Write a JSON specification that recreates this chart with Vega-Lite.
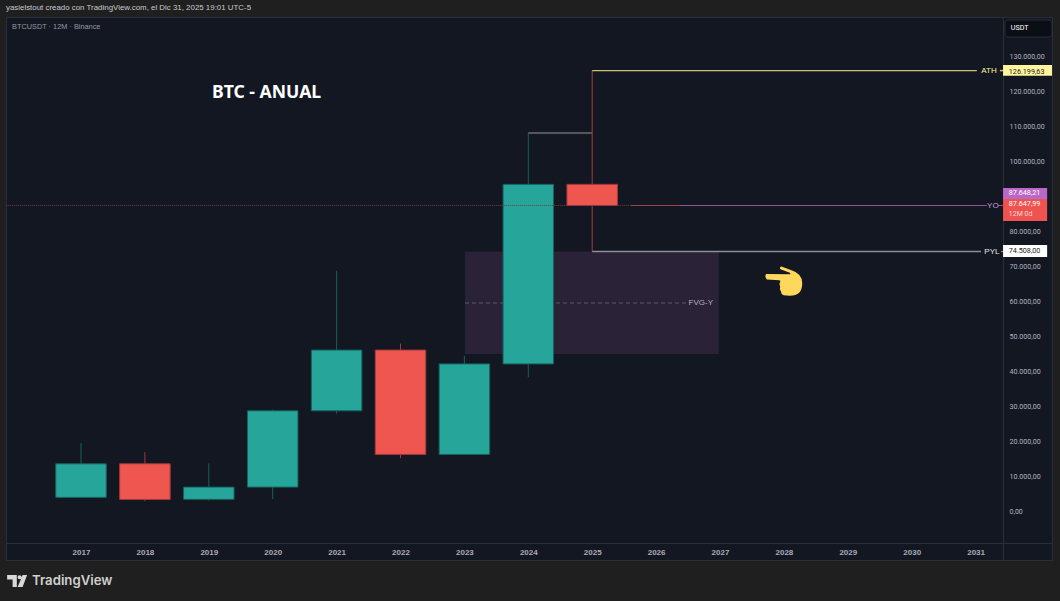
{
"$schema":"https://vega.github.io/schema/vega-lite/v6.json",
"width":1046,"height":543,
"autosize":{"type":"none"},
"padding":{"left":6,"top":17,"right":8,"bottom":41},
"background":"#1f1f1f",
"title":{"text":"yasielstout creado con TradingView.com, el Dic 31, 2025 19:01 UTC-5","anchor":"start","frame":"group","offset":5,"fontSize":7.9,"font":"Liberation Sans","fontWeight":"normal","color":"#c8cad0"},
"config":{"view":{"fill":"#131722","stroke":"#2a2e39"},"text":{"font":"Liberation Sans","baseline":"middle"}},
"datasets":{
"candles":[
{"year":2017,"open":4261,"close":13850,"high":19798,"low":4261,"dir":"up"},
{"year":2018,"open":13850,"close":3670,"high":17176,"low":3156,"dir":"down"},
{"year":2019,"open":3701,"close":7195,"high":13970,"low":3350,"dir":"up"},
{"year":2020,"open":7195,"close":29000,"high":29300,"low":3782,"dir":"up"},
{"year":2021,"open":29000,"close":46350,"high":69000,"low":28130,"dir":"up"},
{"year":2022,"open":46350,"close":16542,"high":48189,"low":15476,"dir":"down"},
{"year":2023,"open":16541,"close":42400,"high":44700,"low":16499,"dir":"up"},
{"year":2024,"open":42400,"close":93700,"high":108353,"low":38555,"dir":"up"},
{"year":2025,"open":93700,"close":87648,"high":126199,"low":74508,"dir":"down"}
],
"levels":[
{"name":"high2024","from":2024,"to":2025,"price":108353},
{"name":"ATH","from":2025,"to":2031.02,"price":126199.63},
{"name":"ATH","from":2031.38,"to":2031.43,"price":126199.63},
{"name":"PYL","from":2025,"to":2031.085,"price":74508},
{"name":"PYL","from":2031.4,"to":2031.43,"price":74508},
{"name":"YOa","from":2025.607,"to":2026.374,"price":87648},
{"name":"YOb","from":2026.374,"to":2031.178,"price":87648},
{"name":"YOb","from":2031.35,"to":2031.43,"price":87648}
],
"tags":[
{"name":"ath","x0":2031.43,"x1":2032.196,"top":127800,"bottom":124743},
{"name":"yo","x0":2031.43,"x1":2032.12,"top":92657,"bottom":89514},
{"name":"last","x0":2031.43,"x1":2032.12,"top":89514,"bottom":83229},
{"name":"pyl","x0":2031.43,"x1":2032.12,"top":76371,"bottom":72943}
]
},
"layer":[
{"data":{"values":[{"a":2023.01,"b":2026.98,"top":74508,"bottom":45200}]},
 "mark":{"type":"rect","color":"#2a2236"},
 "encoding":{
  "x":{"field":"a","type":"quantitative","title":null,"scale":{"domain":[2015.826,2032.196],"nice":false,"zero":false,"padding":0},
   "axis":{"orient":"bottom","offset":-17,"values":[2017,2018,2019,2020,2021,2022,2023,2024,2025,2026,2027,2028,2029,2030,2031],"format":"d","ticks":false,"grid":false,"domainColor":"#2a2e39","labelColor":"#a9acb5","labelFontSize":8,"labelFont":"Liberation Sans","labelFontWeight":"bold","labelPadding":5,"labelOverlap":false,"labelBound":false,"labelFlush":false}},
  "x2":{"field":"b"},
  "y":{"field":"top","type":"quantitative","title":null,"scale":{"domain":[-13629,141514],"nice":false,"zero":false},
   "axis":{"orient":"right","offset":-49,"values":[0,10000,20000,30000,40000,50000,60000,70000,80000,100000,110000,120000,130000],"labelExpr":"datum.value==0?'0,00':format(datum.value/1000,'.0f')+'.000,00'","ticks":false,"grid":false,"domainColor":"#2a2e39","labelColor":"#b2b5be","labelFontSize":7.1,"labelFont":"Roboto","labelPadding":6,"labelOffset":-1,"labelOverlap":false,"labelBound":false,"labelFlush":false}},
  "y2":{"field":"bottom"}
 }},
{"data":{"values":[{"a":2023.01,"b":2026.47,"price":59800}]},
 "mark":{"type":"rule","color":"#5f5b6b","strokeDash":[4,3],"strokeWidth":1},
 "encoding":{"x":{"field":"a","type":"quantitative"},"x2":{"field":"b"},"y":{"field":"price","type":"quantitative"}}},
{"data":{"values":[{"label":"FVG-Y","x":2026.7,"price":59900}]},
 "mark":{"type":"text","color":"#b2b5be","fontSize":8,"align":"center"},
 "encoding":{"x":{"field":"x","type":"quantitative"},"y":{"field":"price","type":"quantitative"},"text":{"field":"label"}}},
{"data":{"name":"candles"},
 "mark":{"type":"rule","strokeWidth":1},
 "encoding":{"x":{"field":"year","type":"quantitative"},"y":{"field":"low","type":"quantitative"},"y2":{"field":"high"},
  "stroke":{"field":"dir","type":"nominal","legend":null,"scale":{"domain":["up","down"],"range":["#14625d","#a23a3d"]}}}},
{"data":{"name":"levels"},
 "mark":{"type":"rule"},
 "encoding":{"x":{"field":"from","type":"quantitative"},"x2":{"field":"to"},"y":{"field":"price","type":"quantitative"},
  "color":{"field":"name","type":"nominal","legend":null,"scale":{"domain":["high2024","ATH","PYL","YOa","YOb"],"range":["#6a6c72","#c9c27f","#8d8f95","#a0434c","#90529a"]}},
  "strokeWidth":{"field":"name","type":"nominal","legend":null,"scale":{"domain":["high2024","ATH","PYL","YOa","YOb"],"range":[1.6,1,1.6,1,1]}}}},
{"data":{"name":"candles"},
 "mark":{"type":"bar","size":50.5,"strokeWidth":1},
 "encoding":{"x":{"field":"year","type":"quantitative"},"y":{"field":"open","type":"quantitative"},"y2":{"field":"close"},
  "fill":{"field":"dir","type":"nominal","legend":null,"scale":{"domain":["up","down","ath","yo","last","pyl"],"range":["#26a69a","#f05650","#fff59d","#ba68c8","#ef5350","#ffffff"]}},
  "stroke":{"field":"dir","type":"nominal","legend":null}}},
{"data":{"values":[{"a":2015.83,"b":2025.607,"price":87648}]},
 "mark":{"type":"rule","color":"#7a3a42","strokeDash":[1,1],"strokeWidth":1},
 "encoding":{"x":{"field":"a","type":"quantitative"},"x2":{"field":"b"},"y":{"field":"price","type":"quantitative"}}},
{"data":{"name":"tags"},
 "mark":{"type":"rect"},
 "encoding":{"x":{"field":"x0","type":"quantitative"},"x2":{"field":"x1"},"y":{"field":"top","type":"quantitative"},"y2":{"field":"bottom"},
  "fill":{"field":"name","type":"nominal","legend":null}}},
{"data":{"values":[{"a":2031.46,"b":2032.196,"top":140657,"bottom":135800}]},
 "mark":{"type":"rect","color":"#0c0e15","stroke":"#2a2e39","cornerRadius":3},
 "encoding":{"x":{"field":"a","type":"quantitative"},"x2":{"field":"b"},"y":{"field":"top","type":"quantitative"},"y2":{"field":"bottom"}}},
{"data":{"values":[{"label":"USDT","x":2031.55,"price":138229},{"label":"87.648,21","x":2031.52,"price":91086},{"label":"87.647,99","x":2031.52,"price":87943}]},
 "mark":{"type":"text","color":"#ffffff","fontSize":7.2,"align":"left","font":"Roboto"},
 "encoding":{"x":{"field":"x","type":"quantitative"},"y":{"field":"price","type":"quantitative"},"text":{"field":"label"}}},
{"data":{"values":[{"label":"12M 0d","x":2031.52,"price":85086}]},
 "mark":{"type":"text","color":"#f7d6d5","fontSize":7,"align":"left","font":"Roboto"},
 "encoding":{"x":{"field":"x","type":"quantitative"},"y":{"field":"price","type":"quantitative"},"text":{"field":"label"}}},
{"data":{"values":[{"label":"126.199,63","x":2031.52,"price":125900},{"label":"74.508,00","x":2031.52,"price":74657}]},
 "mark":{"type":"text","color":"#1a1c22","fontSize":7.2,"align":"left","font":"Roboto"},
 "encoding":{"x":{"field":"x","type":"quantitative"},"y":{"field":"price","type":"quantitative"},"text":{"field":"label"}}},
{"data":{"values":[{"label":"ATH","x":2031.21,"price":126199}]},
 "mark":{"type":"text","color":"#fff59d","fontSize":8,"align":"center"},
 "encoding":{"x":{"field":"x","type":"quantitative"},"y":{"field":"price","type":"quantitative"},"text":{"field":"label"}}},
{"data":{"values":[{"label":"YO","x":2031.27,"price":87648}]},
 "mark":{"type":"text","color":"#d29bdc","fontSize":8,"align":"center"},
 "encoding":{"x":{"field":"x","type":"quantitative"},"y":{"field":"price","type":"quantitative"},"text":{"field":"label"}}},
{"data":{"values":[{"label":"PYL","x":2031.256,"price":74508}]},
 "mark":{"type":"text","color":"#e6e7ea","fontSize":8,"align":"center"},
 "encoding":{"x":{"field":"x","type":"quantitative"},"y":{"field":"price","type":"quantitative"},"text":{"field":"label"}}},
{"data":{"values":[{"label":"BTCUSDT · 12M · Binance","x":2015.92,"price":138657}]},
 "mark":{"type":"text","color":"#9598a1","fontSize":7.35,"align":"left"},
 "encoding":{"x":{"field":"x","type":"quantitative"},"y":{"field":"price","type":"quantitative"},"text":{"field":"label"}}},
{"data":{"values":[{"label":"BTC - ANUAL","x":2019.05,"price":119900}]},
 "mark":{"type":"text","color":"#ffffff","fontSize":17.6,"fontWeight":"bold","align":"left","font":"Noto Sans"},
 "encoding":{"x":{"field":"x","type":"quantitative"},"y":{"field":"price","type":"quantitative"},"text":{"field":"label"}}},
{"data":{"values":[{"label":"TradingView","x":2016.233,"price":-19600}]},
 "mark":{"type":"text","color":"#d0d0d0","fontSize":13.2,"fontWeight":600,"align":"left","font":"Inter"},
 "encoding":{"x":{"field":"x","type":"quantitative"},"y":{"field":"price","type":"quantitative"},"text":{"field":"label"}}},
{"data":{"values":[{"x":2016.0,"price":-19600}]},
 "mark":{"type":"point","filled":true,"opacity":1,"color":"#d8d8d8","size":400,"shape":"M-1,-0.6 L-0.03,-0.6 L-0.03,0.6 L-0.45,0.6 L-0.45,-0.15 L-1,-0.15 Z M0.05,-0.37 A0.2,0.2 0 1 1 0.45,-0.37 A0.2,0.2 0 1 1 0.05,-0.37 Z M0.55,-0.6 L1,-0.6 L0.55,0.6 L0.05,0.6 Z"},
 "encoding":{"x":{"field":"x","type":"quantitative"},"y":{"field":"price","type":"quantitative"}}},
{"data":{"values":[{"x":2027.99,"price":66100}]},
 "mark":{"type":"point","filled":true,"opacity":1,"color":"#fdd85d","size":1444,"shape":"M-0.9,-0.36 L0.35,-0.35 L0.38,-0.42 L-0.15,-0.62 Q-0.22,-0.72 -0.1,-0.76 L0.4,-0.58 Q1,-0.4 1,0.12 Q1,0.78 0.35,0.78 L0.02,0.75 Q-0.12,0.7 -0.12,0.55 Q-0.22,0.45 -0.16,0.3 Q-0.24,0.15 -0.15,0 L-0.2,-0.04 L-0.86,-0.08 Q-1,-0.22 -0.9,-0.36 Z"},
 "encoding":{"x":{"field":"x","type":"quantitative"},"y":{"field":"price","type":"quantitative"}}}
]
}
